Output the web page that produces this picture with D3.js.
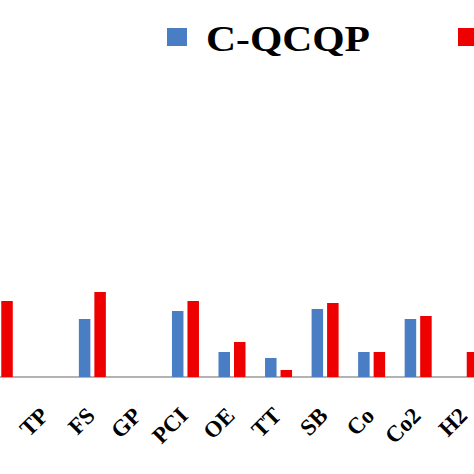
<!DOCTYPE html>
<html><head><meta charset="utf-8">
<script src="https://cdn.jsdelivr.net/npm/d3@7"></script>
<style>body{margin:0;background:#fff}svg{display:block}</style>
</head><body>
<script>
const categories = ["", "TP", "FS", "GP", "PCI", "OE", "TT", "SB", "Co", "Co2", "H2"];
const seriesNames = ["C-QCQP", ""];
const blueValues = [0, 0, 58, 0, 66, 25, 19, 68, 25, 58, 0];
const redValues  = [76, 0, 85, 0, 76, 35, 7, 74, 25, 61, 25];

const W = 474, H = 474;
const svg = d3.select("body").append("svg").attr("width", W).attr("height", H);
const x = d3.scaleBand().domain(categories).range([-24, 488]).paddingInner(0).paddingOuter(0);
const y = d3.scaleLinear().domain([0, 100]).range([377, 277]);
const bw = 11.5;

svg.append("line").attr("x1", 0).attr("x2", W).attr("y1", y(0)).attr("y2", y(0))
  .attr("stroke", "#9a9a9a").attr("stroke-width", 1.5);

const g = svg.append("g");
categories.forEach((c, i) => {
  const cx = x(c) + x.bandwidth() / 2;
  if (blueValues[i] > 0)
    g.append("rect").attr("x", cx - 13.5).attr("width", bw).attr("y", y(blueValues[i]))
      .attr("height", y(0) - y(blueValues[i])).attr("fill", "#4a7ec4");
  if (redValues[i] > 0)
    g.append("rect").attr("x", cx + 2).attr("width", bw).attr("y", y(redValues[i]))
      .attr("height", y(0) - y(redValues[i])).attr("fill", "#ee0000");
});

const xAxis = svg.append("g").attr("transform", `translate(0,${y(0)})`)
  .call(d3.axisBottom(x).tickSize(0).tickPadding(0));
xAxis.select(".domain").remove();
xAxis.selectAll("text")
  .attr("font-family", "Liberation Serif, Times New Roman, serif")
  .attr("font-weight", "bold").attr("font-size", 23).attr("fill", "#000")
  .attr("text-anchor", "end").attr("dy", 0)
  .attr("transform", "translate(4,40) rotate(-45)");

svg.append("rect").attr("x", 167).attr("y", 28).attr("width", 20).attr("height", 18).attr("fill", "#4a7ec4");
svg.append("text").attr("x", 206).attr("y", 51).text(seriesNames[0])
  .attr("font-family", "Liberation Serif, Times New Roman, serif").attr("font-weight", "bold")
  .attr("font-size", 36).attr("textLength", 164).attr("lengthAdjust", "spacingAndGlyphs").attr("fill", "#000");
svg.append("rect").attr("x", 458).attr("y", 28).attr("width", 20).attr("height", 18).attr("fill", "#ee0000");
</script>
</body></html>
